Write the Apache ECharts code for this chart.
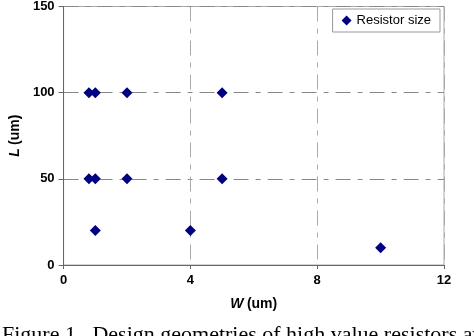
<!DOCTYPE html>
<html><head><meta charset="utf-8">
<script src="https://cdn.jsdelivr.net/npm/echarts@6/dist/echarts.min.js"></script>
<style>html,body{margin:0;padding:0;background:#fff;}#c{width:474px;height:336px;}</style>
</head><body><div id="c"></div>
<script>
const seriesName = 'Resistor size';
const widthValues = [0.8, 1, 2, 5, 0.8, 1, 2, 5, 1, 4, 10];
const lengthValues = [100, 100, 100, 100, 50, 50, 50, 50, 20, 20, 10];
const xTicks = [0, 4, 8, 12];
const yTicks = [0, 50, 100, 150];
const caption = 'Figure 1.  Design geometries of high value resistors available';

const chart = echarts.init(document.getElementById('c'), null, {renderer: 'canvas'});
const dashDot = [15, 7, 5, 7];
chart.setOption({
  animation: false,
  backgroundColor: '#fff',
  textStyle: {fontFamily: 'Liberation Sans, Arial, sans-serif'},
  grid: {left: 62, right: 30, top: 5, bottom: 71, show: true, borderColor: '#aaa', borderWidth: 1},
  legend: {
    right: 34, top: 9, itemWidth: 10, itemHeight: 10, itemGap: 4,
    padding: [5, 9, 5, 9],
    borderColor: '#999', borderWidth: 1, backgroundColor: '#fff',
    textStyle: {fontSize: 13, color: '#000', fontFamily: 'Liberation Sans, Arial'},
    data: [{name: seriesName, icon: 'diamond'}]
  },
  xAxis: {
    type: 'value', min: xTicks[0], max: xTicks[xTicks.length - 1], interval: 4,
    axisLine: {show: true, lineStyle: {color: '#666', width: 1}},
    axisTick: {show: true, length: 4, lineStyle: {color: '#666'}},
    axisLabel: {fontSize: 13, fontWeight: 'bold', color: '#000', margin: 9},
    splitLine: {show: true, lineStyle: {color: '#aaa', type: dashDot, width: 1}},
    name: '{i|W} {n|(um)}', nameLocation: 'middle', nameGap: 32,
    nameTextStyle: {rich: {
      i: {fontSize: 14, fontWeight: 'bold', fontStyle: 'italic', color: '#000'},
      n: {fontSize: 14, fontWeight: 'bold', color: '#000'}
    }}
  },
  yAxis: {
    type: 'value', min: yTicks[0], max: yTicks[yTicks.length - 1], interval: 50,
    axisLine: {show: true, lineStyle: {color: '#666', width: 1}},
    axisTick: {show: true, length: 5, lineStyle: {color: '#666'}},
    axisLabel: {fontSize: 13, fontWeight: 'bold', color: '#000', margin: 9},
    splitLine: {show: true, lineStyle: {color: '#888', type: dashDot, width: 1}},
    name: '{i|L} {n|(um)}', nameLocation: 'middle', nameGap: 34, nameRotate: 90,
    nameTextStyle: {rich: {
      i: {fontSize: 14, fontWeight: 'bold', fontStyle: 'italic', color: '#000'},
      n: {fontSize: 14, fontWeight: 'bold', color: '#000'}
    }}
  },
  graphic: [{
    type: 'text', left: 2, top: 324,
    style: {text: caption, fontFamily: 'Liberation Serif, Times New Roman, serif', fontSize: 22, fill: '#000'}
  }],
  series: [{
    name: seriesName, type: 'scatter', symbol: 'diamond', symbolSize: 11,
    itemStyle: {color: '#000080', opacity: 1},
    data: widthValues.map((w, i) => [w, lengthValues[i]])
  }]
});
</script></body></html>
